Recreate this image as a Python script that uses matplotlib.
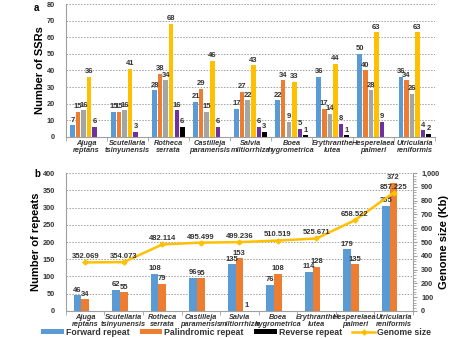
import matplotlib
matplotlib.use("Agg")
import matplotlib.pyplot as plt
import numpy as np
from matplotlib.ticker import MultipleLocator, FuncFormatter

species = ["Ajuga\nreptans", "Scutellaria\ntsinyunensis", "Rotheca\nserrata",
           "Castilleja\nparamensis", "Salvia\nmiltiorrhiza", "Boea\nhygrometrica",
           "Erythranthe\nlutea", "Hesperelaea\npalmeri", "Utricularia\nreniformis"]

ssr_names = ["Mono-", "Di-", "Tri-", "Tetra-", "Penta-", "Hexan-"]
mono = [7, 15, 28, 21, 17, 22, 36, 50, 36]
di = [15, 15, 38, 29, 27, 34, 17, 40, 34]
tri = [16, 16, 34, 15, 22, 9, 14, 28, 26]
tetra = [36, 41, 68, 46, 43, 33, 44, 63, 63]
penta = [6, 3, 16, 6, 6, 5, 8, 9, 4]
hexa = [0, 0, 6, 0, 3, 1, 1, 0, 2]

forward = [46, 62, 108, 96, 135, 76, 114, 179, 305]
palindromic = [34, 55, 79, 95, 153, 108, 128, 135, 372]
reverse = [0, 0, 0, 0, 1, 0, 0, 0, 0]
genome_size = [352.069, 354.073, 482.114, 495.499, 499.236, 510.519, 525.671, 658.522, 857.225]
genome_labels = ["352.069", "354.073", "482.114", "495.499", "499.236", "510.519",
                 "525.671", "658.522", "857.225"]

c_blue = "#5B9BD5"
c_orange = "#ED7D31"
c_gray = "#A5A5A5"
c_gold = "#FFC000"
c_purple = "#7030A0"
c_black = "#000000"

plt.rcParams["font.family"] = ["Liberation Sans", "DejaVu Sans"]
plt.rcParams["font.weight"] = "bold"

fig = plt.figure(figsize=(4.74, 3.38), dpi=100)
axA = fig.add_axes([0.139, 0.595, 0.779, 0.393])
axB = fig.add_axes([0.139, 0.080, 0.732, 0.408])

x = np.arange(len(species))
tfs = 5.3
lfs = 5.5
txtc = "#333333"

def style_axis(ax):
    for s in ["top", "right"]:
        ax.spines[s].set_visible(False)
    ax.spines["left"].set_color("#A0A0A0")
    ax.spines["bottom"].set_color("#A0A0A0")
    ax.yaxis.grid(True, linestyle=(0, (1.5, 1.5)), color="#A0A0A0", linewidth=0.7)
    ax.set_axisbelow(True)
    ax.tick_params(axis="y", length=0, labelsize=tfs, pad=8, labelcolor=txtc)
    ax.tick_params(axis="x", length=0, labelsize=tfs, pad=2, labelcolor=txtc)
    ax.set_xlim(-0.5, len(species) - 0.5)
    ax.set_xticks(x)
    ax.set_xticklabels(species, style="italic", fontsize=tfs, linespacing=1.0)
    ax.set_xticks(np.arange(len(species) + 1) - 0.5, minor=True)
    ax.tick_params(axis="x", which="minor", length=3, color="#A0A0A0")

# Panel a
series_a = [mono, di, tri, tetra, penta, hexa]
colors_a = [c_blue, c_orange, c_gray, c_gold, c_purple, c_black]
w = 0.11
step = 0.135
offsets = (np.arange(6) - 2.5) * step
for vals, col, name, off in zip(series_a, colors_a, ssr_names, offsets):
    axA.bar(x + off, vals, width=w, color=col, label=name)
    for xi, v in zip(x + off, vals):
        if v > 0:
            axA.text(xi, v + 1, str(v), ha="center", va="bottom", fontsize=lfs, fontweight="bold", color=txtc)
axA.set_ylim(0, 80)
axA.yaxis.set_major_locator(MultipleLocator(10))
style_axis(axA)
axA.set_ylabel("Number of SSRs", fontsize=8, fontweight="bold", labelpad=1)
axA.legend(loc="center", bbox_to_anchor=(0.465, -0.37), ncol=6, frameon=False, fontsize=5.8,
           handlelength=0.5, handleheight=0.5, handletextpad=0.3, columnspacing=0.7,
           labelcolor=txtc)
fig.text(0.072, 0.99, "a", fontsize=7, fontweight="bold", ha="left", va="top")

# Panel b
wb = 0.2
for vals, col, name, off in zip([forward, palindromic, reverse], [c_blue, c_orange, c_black],
                                ["Forward repeat", "Palindromic repeat", "Reverse repeat"], [-0.2, 0.0, 0.2]):
    axB.bar(x + off, vals, width=wb, color=col, label=name)
    for xi, v in zip(x + off, vals):
        if v > 0:
            axB.text(xi, v + 4, str(v), ha="center", va="bottom", fontsize=lfs, fontweight="bold", color=txtc)
axB.set_ylim(0, 400)
axB.yaxis.set_major_locator(MultipleLocator(50))
style_axis(axB)
axB.set_ylabel("Number of repeats", fontsize=8, fontweight="bold", labelpad=1)

axR = axB.twinx()
axR.plot(x, genome_size, color=c_gold, linewidth=1.8, marker="D", markersize=2.5, label="Genome size")
for xi, v, lab in zip(x, genome_size, genome_labels):
    axR.text(xi, v + 15, lab, ha="center", va="bottom", fontsize=lfs, fontweight="bold", color=txtc)
axR.set_ylim(0, 1000)
axR.yaxis.set_major_locator(MultipleLocator(100))
axR.yaxis.set_minor_locator(MultipleLocator(20))
axR.yaxis.set_major_formatter(FuncFormatter(lambda v, p: f"{int(v):,}"))
for s in ["top", "left", "bottom"]:
    axR.spines[s].set_visible(False)
axR.spines["right"].set_color("#A0A0A0")
axR.tick_params(axis="y", which="major", length=3, color="#A0A0A0", labelsize=tfs, pad=3, labelcolor=txtc)
axR.tick_params(axis="y", which="minor", length=2, color="#A0A0A0")
axR.set_ylabel("Genome size (Kb)", fontsize=8, fontweight="bold", labelpad=0)

h1, l1 = axB.get_legend_handles_labels()
h2, l2 = axR.get_legend_handles_labels()
axB.legend(h1 + h2, l1 + l2, loc="center", bbox_to_anchor=(0.49, -0.155), ncol=4, frameon=False,
           fontsize=6.3, handlelength=2.6, handleheight=0.4, handletextpad=0.2, columnspacing=1.2,
           labelcolor=txtc)
fig.text(0.072, 0.5, "b", fontsize=7, fontweight="bold", ha="left", va="top")

fig.savefig("out.png", dpi=100)
